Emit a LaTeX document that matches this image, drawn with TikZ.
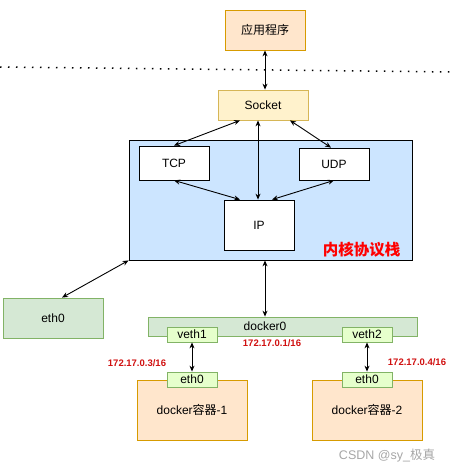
\documentclass[tikz,border=0pt]{standalone}
\usepackage{fontspec}
\setmainfont{Liberation Sans}
\newfontfamily\cjk{Noto Sans CJK SC}
\usepackage{xcolor}
\usetikzlibrary{arrows.meta}
\usetikzlibrary{calc}

\definecolor{appfill}{HTML}{FFE6CC}
\definecolor{appline}{HTML}{D79B00}
\definecolor{sockfill}{HTML}{FFF2CC}
\definecolor{sockline}{HTML}{D6B656}
\definecolor{kernfill}{HTML}{CCE5FF}
\definecolor{netfill}{HTML}{D5E8D4}
\definecolor{netline}{HTML}{82B366}
\definecolor{vethfill}{HTML}{E6FFCC}
\definecolor{iptext}{HTML}{D01010}

\tikzset{
  box/.style 2 args={rectangle, line width=0.8pt, inner sep=0pt,
    minimum width=#1, minimum height=#2,
    font=\fontsize{12}{14}\selectfont},
  appbox/.style={fill=appfill, draw=appline},
  sockbox/.style={fill=sockfill, draw=sockline},
  kernbox/.style={fill=kernfill, draw=black},
  whitebox/.style={fill=white, draw=black},
  netbox/.style={fill=netfill, draw=netline},
  vethbox/.style={fill=vethfill, draw=netline},
  iplabel/.style={text=iptext, font=\fontsize{9.5}{11}\bfseries\selectfont},
  link/.style={line width=0.9pt, {Stealth[length=6pt,width=5pt]}-{Stealth[length=6pt,width=5pt]}}
}

\begin{document}
\begin{tikzpicture}[x=1pt, y=-1pt]
  \useasboundingbox (0,0) rectangle (455,474);

  % user space
  \node[box={80pt}{40pt}, appbox] (app) at (265,30) {\cjk 应用程序};
  \coordinate (dl) at (0,67);
  \coordinate (dr) at (455,72);
  \draw[line width=1.5pt, dash pattern=on 1.5pt off 6.5pt] (dl) -- (dr);
  \node[box={90pt}{30pt}, sockbox] (socket) at (263,105) {Socket};

  % kernel
  \node[box={283pt}{120pt}, kernbox] (kernel) at (270.5,200) {};
  \node[box={70pt}{34pt}, whitebox] (tcp) at (174,163) {TCP};
  \node[box={70pt}{32pt}, whitebox] (udp) at (334,164) {UDP};
  \node[box={70pt}{50pt}, whitebox] (ip) at (259,225) {IP};
  \node[text=red, font=\cjk\fontsize{15.5}{17}\bfseries\selectfont, anchor=east]
    (kernlbl) at (404,250) {内核协议栈};

  \draw[link] (app.south) -- (app.south |- socket.north);
  \draw[link] ($(socket.south)+(-23,0)$) -- (tcp.north);
  \draw[link] ($(socket.south)+(-5,0)$) -- ($(ip.north)+(-1,0)$);
  \draw[link] ($(socket.south)+(27,0)$) -- ($(udp.north)+(-3,0)$);
  \draw[link] (tcp.south) -- ($(ip.north)+(-19,0)$);
  \draw[link] (udp.south) -- ($(ip.north)+(13,0)$);

  % host side
  \node[box={100pt}{40pt}, netbox] (eth0) at (53,318) {eth0};
  \node[box={269pt}{19pt}, netbox] (docker0) at (282.5,326.5) {};
  \node[font=\fontsize{12}{14}\selectfont] (docker0lbl) at (265,326) {docker0};
  \node[box={50pt}{15pt}, vethbox] (veth1) at (192,334.5) {veth1};
  \node[box={50pt}{15pt}, vethbox] (veth2) at (367,334.5) {veth2};
  \node[iplabel] (ipbr) at (272,343) {172.17.0.1/16};

  \draw[link] (kernel.south west) -- ($(eth0.north)+(9,0)$);
  \draw[link] ($(kernel.south)+(-5.5,0)$) -- ($(docker0.north)+(-17.5,0)$);

  % containers
  \foreach \n/\x in {1/192, 2/367} {
    \node[box={110pt}{60pt}, appbox] (con\n) at (\x,410) {docker{\cjk 容器}-\n};
    \node[box={50pt}{15pt}, vethbox] (ceth\n) at (\x,379.5) {eth0};
    \draw[link] (veth\n.south) -- (ceth\n.north);
  }
  \node[iplabel] (ipc1) at (137,363) {172.17.0.3/16};
  \node[iplabel] (ipc2) at (417,362) {172.17.0.4/16};

  \node[text=black!35, font=\fontsize{12.5}{14}\selectfont] (mark) at (387,456)
    {CSDN @sy\_{\cjk 极真}};
\end{tikzpicture}
\end{document}
